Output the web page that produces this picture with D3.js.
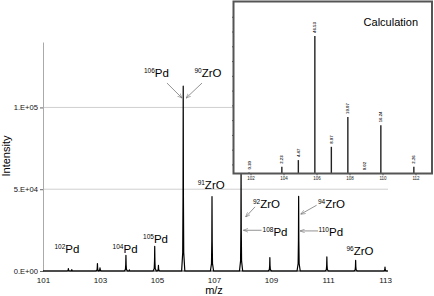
<!DOCTYPE html>
<html>
<head>
<meta charset="utf-8">
<script src="https://cdn.jsdelivr.net/npm/d3@7"></script>
<style>
  body { margin: 0; background: #fff; }
  svg { display: block; font-family: "Liberation Sans", Arial, sans-serif; }
</style>
</head>
<body>
<div id="chart"></div>
<script>
// measured spectrum: peak m/z and intensity
const peakMz = [101.89, 102.01, 102.91, 103.00, 103.91, 104.03, 104.92, 105.05, 105.92, 106.93, 107.95, 108.96, 109.97, 110.96, 111.97, 113.00];
const peakIntensity = [1500, 900, 4600, 2000, 9600, 700, 15000, 3400, 113000, 45500, 62000, 8200, 45700, 8600, 6500, 2400];
const xTicks = [101, 103, 105, 107, 109, 111, 113];
const yTicks = [0, 50000, 100000];
const yTickLabels = ['0.E+00', '5.E+04', '1.E+05'];

// calculated spectrum (inset)
const calcMz = [101.91, 103.90, 104.90, 105.90, 106.90, 107.90, 108.91, 109.90, 111.90];
const calcValues = [0.30, 2.23, 4.47, 46.53, 8.97, 19.07, 0.02, 16.24, 2.26];
const calcLabels = ['0.30', '2.23', '4.47', '46.53', '8.97', '19.07', '0.02', '16.24', '2.26'];
const calcTicks = [102, 104, 106, 108, 110, 112];

// peak annotations: mass number, species, anchor in data coords
const labelIso = ['106', '90', '91', '92', '108', '94', '110', '96', '102', '104', '105'];
const labelEl = ['Pd', 'ZrO', 'ZrO', 'ZrO', 'Pd', 'ZrO', 'Pd', 'ZrO', 'Pd', 'Pd', 'Pd'];
const labelMz = [104.98, 106.79, 106.90, 108.84, 109.14, 111.12, 111.10, 112.12, 101.84, 103.88, 104.95];
const labelInt = [118500, 118500, 50000, 38400, 21200, 38400, 21200, 9600, 10800, 10800, 17000];

// arrows [from, to] in data coords
const arrows = [
  [[105.35, 114900], [105.88, 105700]],
  [[106.58, 114900], [106.02, 105700]],
  [[108.44, 39200], [108.11, 33000]],
  [[108.67, 24900], [108.03, 24900]],
  [[110.60, 40200], [110.04, 34700]],
  [[110.65, 24500], [110.02, 24500]]
];

const width = 434, height = 296;
const svg = d3.select('#chart').append('svg')
  .attr('width', width)
  .attr('height', height);

const x = d3.scaleLinear().domain([101, 113]).range([43, 385]);
const y = d3.scaleLinear().domain([0, 140000]).range([271, 42]);

svg.append('defs').append('marker')
  .attr('id', 'head')
  .attr('viewBox', '0 0 10 10')
  .attr('refX', 10).attr('refY', 5)
  .attr('markerWidth', 6).attr('markerHeight', 6)
  .attr('orient', 'auto')
  .append('path')
  .attr('d', 'M0,1 L10,5 L0,9')
  .attr('fill', 'none')
  .attr('stroke', '#777')
  .attr('stroke-width', 1.2);

// gridlines
svg.append('g').selectAll('line')
  .data(yTicks.slice(1))
  .enter().append('line')
  .attr('x1', x(101)).attr('x2', 388)
  .attr('y1', d => y(d)).attr('y2', d => y(d))
  .attr('stroke', '#cfcfcf');

// y axis
const yAxis = d3.axisLeft(y)
  .tickValues(yTicks)
  .tickFormat((d, i) => yTickLabels[i])
  .tickSize(3)
  .tickSizeOuter(0)
  .tickPadding(2);
const gy = svg.append('g')
  .attr('transform', `translate(${x(101)},0)`)
  .call(yAxis);
gy.select('.domain').attr('stroke', '#aaa');
gy.selectAll('.tick line').attr('stroke', '#666');
gy.selectAll('text').attr('font-size', 7.6).attr('fill', '#111');

// x axis
const xAxis = d3.axisBottom(x)
  .tickValues(xTicks)
  .tickFormat(d3.format('d'))
  .tickSize(0)
  .tickSizeOuter(0)
  .tickPadding(6);
const gx = svg.append('g')
  .attr('transform', `translate(0,${y(0)})`)
  .call(xAxis);
gx.select('.domain').attr('stroke', '#333').attr('d', `M${x(101)},0H388`);
gx.selectAll('text').attr('font-size', 8).attr('fill', '#111');

svg.append('text')
  .attr('x', x(107)).attr('y', 294)
  .attr('text-anchor', 'middle')
  .attr('font-size', 11)
  .text('m/z');

svg.append('text')
  .attr('transform', `translate(10,156) rotate(-90)`)
  .attr('text-anchor', 'middle')
  .attr('font-size', 11)
  .text('Intensity');

// spectrum as one trace
const hw = 0.035;
const pts = [[101, 0]];
peakMz.forEach((m, i) => {
  pts.push([m - hw * 1.6, 0], [m - hw * 0.5, peakIntensity[i] * 0.1], [m - hw * 0.2, peakIntensity[i] * 0.4], [m, peakIntensity[i]], [m + hw * 0.2, peakIntensity[i] * 0.4], [m + hw * 0.5, peakIntensity[i] * 0.1], [m + hw * 1.6, 0]);
});
pts.push([113.1, 0]);
const line = d3.line().x(d => x(d[0])).y(d => y(d[1]));
svg.append('path')
  .datum(pts)
  .attr('d', line)
  .attr('fill', 'none')
  .attr('stroke', '#000')
  .attr('stroke-width', 1.2)
  .attr('stroke-linejoin', 'round');

// arrows
svg.append('g').selectAll('line')
  .data(arrows)
  .enter().append('line')
  .attr('x1', d => x(d[0][0])).attr('y1', d => y(d[0][1]))
  .attr('x2', d => x(d[1][0])).attr('y2', d => y(d[1][1]))
  .attr('stroke', '#777')
  .attr('stroke-width', 0.8)
  .attr('marker-end', 'url(#head)');

// peak labels
const lab = svg.append('g').selectAll('text')
  .data(labelIso)
  .enter().append('text')
  .attr('x', (d, i) => x(labelMz[i]))
  .attr('y', (d, i) => y(labelInt[i]))
  .attr('text-anchor', 'middle')
  .attr('font-size', 11.5);
lab.append('tspan')
  .attr('font-size', 6.5)
  .attr('dy', -4)
  .text(d => d);
lab.append('tspan')
  .attr('dy', 4)
  .text((d, i) => labelEl[i]);

// inset: calculation
const ix = d3.scaleLinear().domain([101, 113]).range([234, 432]);
const iy = d3.scaleLinear().domain([0, 58]).range([173.3, 2]);

svg.append('rect')
  .attr('x', 233.5).attr('y', 1.5)
  .attr('width', 198.5).attr('height', 172)
  .attr('fill', '#fff');

const iyAxis = d3.axisLeft(iy)
  .tickValues(d3.range(3, 58, 5))
  .tickFormat('')
  .tickSize(2)
  .tickSizeOuter(0);
const giy = svg.append('g')
  .attr('transform', 'translate(234,0)')
  .call(iyAxis);
giy.select('.domain').remove();
giy.selectAll('.tick line').attr('stroke', '#555');

const ixAxis = d3.axisBottom(ix)
  .tickValues(calcTicks)
  .tickFormat(d3.format('d'))
  .tickSize(2)
  .tickSizeOuter(0)
  .tickPadding(1.5);
const gix = svg.append('g')
  .attr('transform', `translate(0,${iy(0)})`)
  .call(ixAxis);
gix.select('.domain').remove();
gix.selectAll('.tick line').attr('stroke', '#555');
gix.selectAll('text').attr('font-size', 4.5).attr('fill', '#222');

svg.append('g').selectAll('line')
  .data(calcValues)
  .enter().append('line')
  .attr('x1', (d, i) => ix(calcMz[i])).attr('x2', (d, i) => ix(calcMz[i]))
  .attr('y1', iy(0)).attr('y2', d => iy(d))
  .attr('stroke', '#222')
  .attr('stroke-width', 1.4);

svg.append('g').selectAll('text')
  .data(calcValues)
  .enter().append('text')
  .attr('transform', (d, i) => `translate(${ix(calcMz[i]) + 1.6},${iy(d) - 3}) rotate(-90)`)
  .attr('font-size', 4.3)
  .attr('font-weight', 'bold')
  .attr('fill', '#333')
  .text((d, i) => calcLabels[i]);

svg.append('rect')
  .attr('x', 233.5).attr('y', 1.5)
  .attr('width', 198.5).attr('height', 172)
  .attr('fill', 'none')
  .attr('stroke', '#555')
  .attr('stroke-width', 2);

svg.append('text')
  .attr('x', 418).attr('y', 26)
  .attr('text-anchor', 'end')
  .attr('font-size', 11)
  .text('Calculation');
</script>
</body>
</html>
